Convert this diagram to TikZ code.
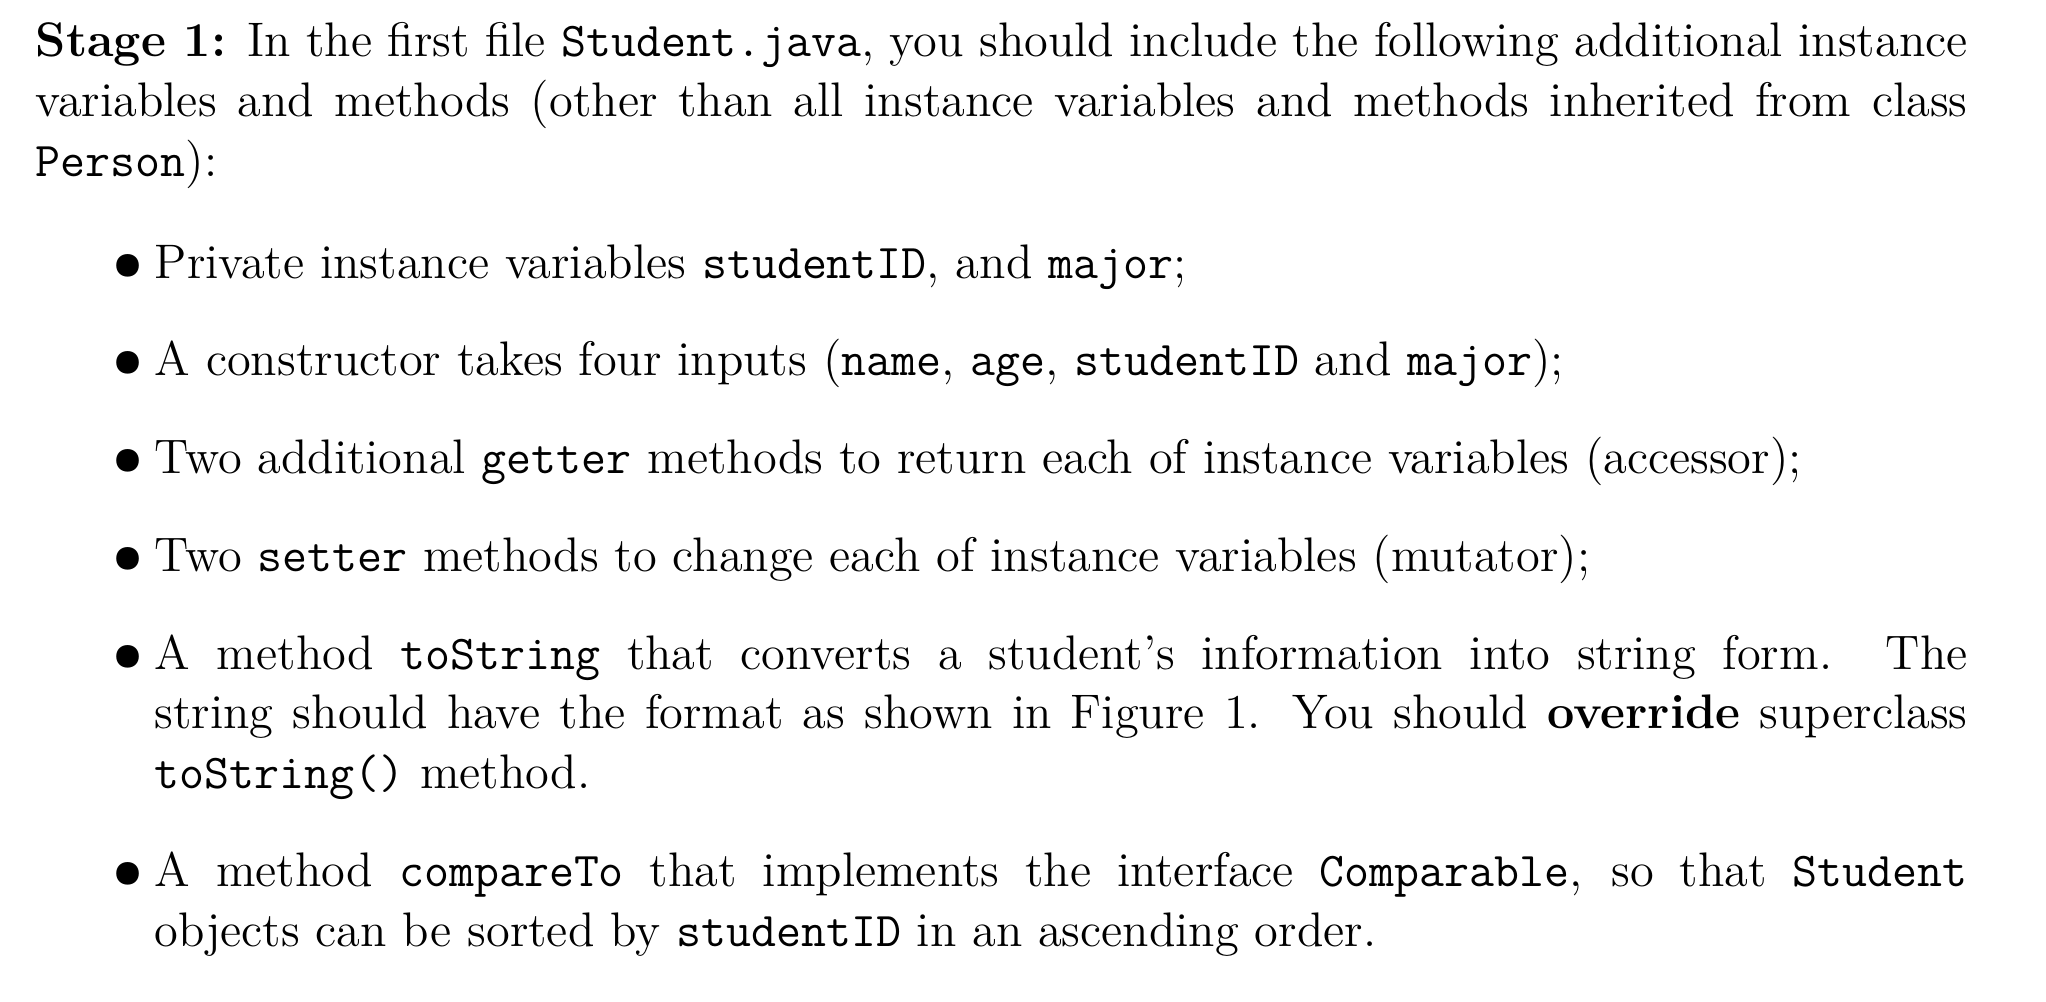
\documentclass[tikz,border=0pt]{standalone}
\usepackage{enumitem}
\begin{document}
\begin{tikzpicture}[x=1cm,y=1cm]
\useasboundingbox (0,0) rectangle (20.46,10.02);
\node[anchor=north west,inner sep=0pt,text width=19.32cm,font=\fontsize{13.8}{17}\selectfont,align=justify] (txt) at (0.35,9.8) {%
\hyphenpenalty=10000\exhyphenpenalty=10000
\textbf{Stage 1:} In the first file \texttt{Student.java}, you should include the following additional instance variables and methods (other than all instance variables and methods inherited from class \texttt{Person}):
\begin{itemize}[leftmargin=1.19cm,itemsep=10.8pt,parsep=0pt,topsep=12pt,labelsep=0.12cm,label={\boldmath$\bullet$}]
\item Private instance variables \texttt{studentID}, and \texttt{major};
\item A constructor takes four inputs (\texttt{name}, \texttt{age}, \texttt{studentID} and \texttt{major});
\item Two additional \texttt{getter} methods to return each of instance variables (accessor);
\item Two \texttt{setter} methods to change each of instance variables (mutator);
\item A method \texttt{toString} that converts a student's information into string form. The string should have the format as shown in Figure 1. You should \textbf{override} superclass \texttt{toString()} method.
\item A method \texttt{compareTo} that implements the interface \texttt{Comparable}, so that \texttt{Student} objects can be sorted by \texttt{studentID} in an ascending order.
\end{itemize}};
\end{tikzpicture}
\end{document}
